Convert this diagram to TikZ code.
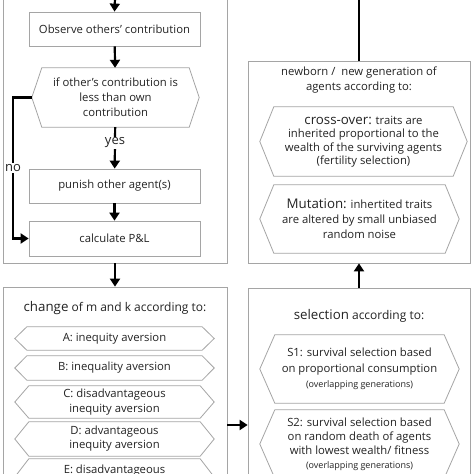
\documentclass[tikz,border=0pt]{standalone}
\usepackage{fontspec}
\setmainfont{Open Sans}
\usetikzlibrary{arrows.meta}
\definecolor{boxgray}{RGB}{165,165,165}
\definecolor{txtc}{RGB}{35,35,35}
\newcommand\hexdraw[2]{\draw[hexline] (#1.west) -- ([xshift=#2]#1.north west) -- ([xshift=-#2]#1.north east) -- (#1.east) -- ([xshift=-#2]#1.south east) -- ([xshift=#2]#1.south west) -- cycle;}
\newcommand\bigtxt{\fontsize{13.3}{14}\selectfont}
\newcommand\smalltxt{\fontsize{9}{12}\selectfont}
\newcommand\fs[1]{\fontsize{11.3}{#1}\selectfont}
\begin{document}
\begin{tikzpicture}[x=1pt,y=-1pt,
  base/.style={text=txtc, font=\fs{15}, align=center, inner sep=0pt},
  box/.style={base, draw=boxgray, line width=0.8pt},
  hexn/.style={base},
  hexline/.style={draw=boxgray, line width=0.8pt},
  arr/.style={line width=2.2pt, -{Triangle[length=8pt,width=10pt]}},
  lbl/.style={base, fill=white, inner sep=1pt, font=\fontsize{13}{14}\selectfont},
  ttl/.style={base, font=\fontsize{12}{15}\selectfont},
]
\fill[white] (0,0) rectangle (474,474);
\useasboundingbox (0,0) rectangle (474,474);
\clip (0,0) rectangle (474,474);

% left upper
\node[box, minimum width=224, minimum height=280] (outer) at (115,123) {};
\node[box, minimum width=171, minimum height=34] (obs) at (114.5,29) {Observe others’ contribution};
\node[hexn, minimum width=167, minimum height=59] (dec) at (115.5,97.5) {if other’s contribution is\\less than own\\contribution};
\hexdraw{dec}{10}
\node[box, minimum width=171, minimum height=34] (punish) at (114.5,186) {punish other agent(s)};
\node[box, minimum width=171, minimum height=35] (calc) at (114.5,238.5) {calculate P\&L};

% left lower
\node[box, minimum width=224, minimum height=203] (ll) at (115,388.5) {};
\node[ttl] (lltitle) at (115,308) {{\bigtxt change} of m and k according to:};
\node[hexn, minimum width=199, minimum height=23] (A) at (114.5,338.5) {A: inequity aversion};
\hexdraw{A}{12}
\node[hexn, minimum width=199, minimum height=24] (B) at (114.5,368) {B: inequality aversion};
\hexdraw{B}{12}
\node[hexn, minimum width=199, minimum height=32] (C) at (114.5,402) {C: disadvantageous\\inequity aversion};
\hexdraw{C}{14}
\node[hexn, font=\fs{14}, minimum width=199, minimum height=34] (D) at (114.5,439) {D: advantageous\\inequity aversion};
\hexdraw{D}{14}
\node[hexn, minimum width=199, minimum height=36] (E) at (114.5,477) {E: disadvantageous\\\mbox{}};
\hexdraw{E}{14}

% right upper
\node[box, minimum width=222, minimum height=202] (ur) at (359,162) {};
\node[base] (urtitle) at (359,80.5) {newborn /\ \ new generation of\\agents according to:};
\node[hexn, font=\fs{13.5}, minimum width=207, minimum height=69] (cross) at (363.5,141.5) {{\bigtxt cross-over:} traits are\\inherited proportional to the\\wealth of the surviving agents\\(fertility selection)};
\hexdraw{cross}{14}
\node[hexn, minimum width=199, minimum height=68] (mut) at (359.5,219) {{\bigtxt Mutation:} inhertited traits\\are altered by small unbiased\\random noise};
\hexdraw{mut}{14}

% right lower
\node[box, minimum width=222, minimum height=192] (lr) at (359,384) {};
\node[ttl] (lrtitle) at (359,316) {{\bigtxt selection} according to:};
\node[hexn, font=\fs{15.5}, minimum width=199, minimum height=68] (S1) at (359.5,369) {S1: survival selection based\\on proportional consumption\\{\smalltxt (overlapping generations)}};
\hexdraw{S1}{15}
\node[hexn, font=\fs{14}, minimum width=199, minimum height=68] (S2) at (359.5,444) {S2: survival selection based\\on random death of agents\\with lowest wealth/ fitness\\{\smalltxt (overlapping generations)}};
\hexdraw{S2}{15}

% connectors
\coordinate (tl) at (115,-2);
\coordinate (tr) at (359,-2);
\coordinate (n1) at (13,97.5);
\coordinate (n2) at (13,238.5);
\coordinate (m) at (0,425);
\draw[arr] (tl) -- (obs.north);
\draw[arr] (obs) -- (dec);
\draw[arr] (dec) -- node[lbl, pos=0.38] {yes} (punish);
\draw[arr] (punish) -- (calc);
\draw[arr] (dec.west) -- (n1) -- node[lbl, pos=0.5] {no} (n2) -- (calc.west);
\draw[arr] (outer.south) -- (ll.north);
\draw[arr] (ll.east |- m) -- (lr.west |- m);
\draw[arr] (lr.north) -- (ur.south);
\draw[line width=2.2pt] (tr) -- (ur.north);
\end{tikzpicture}
\end{document}
